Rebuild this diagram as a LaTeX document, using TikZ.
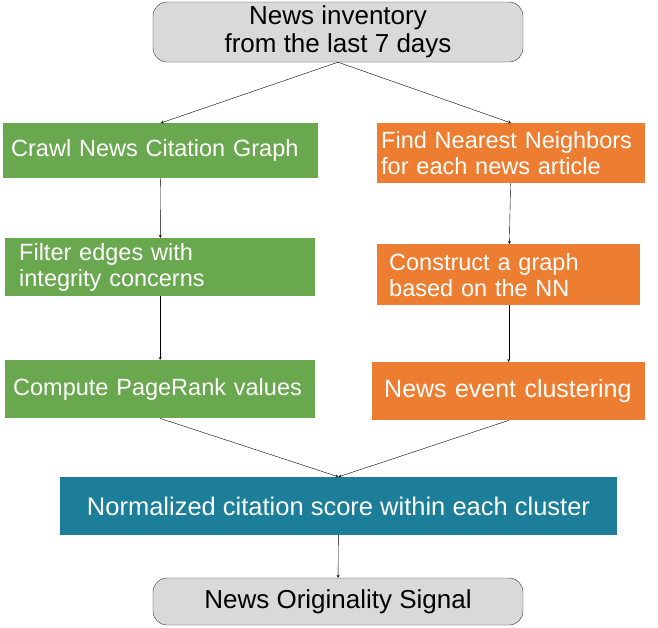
\documentclass[tikz,border=0pt]{standalone}
\usepackage{fontspec}
\setmainfont{Liberation Sans}
\usetikzlibrary{positioning,arrows}
\definecolor{stepgreen}{HTML}{6AA84F}
\definecolor{steporange}{HTML}{ED7D31}
\definecolor{stepblue}{HTML}{1C7E99}
\definecolor{endgray}{HTML}{D9D9D9}
\begin{document}
\begin{tikzpicture}[
            x=1pt,y=-1pt,
            every node/.style={font=\fontsize{23.5}{26}\selectfont},
            ends/.style={draw=black!80,fill=endgray,rounded corners=14pt,minimum width=370pt,align=center,font=\fontsize{26}{28}\selectfont},
            flowbox/.style={text=white,anchor=north west,align=left,inner xsep=8pt,inner ysep=0pt},
            citebox/.style={flowbox,fill=stepgreen},
            nnbox/.style={flowbox,fill=steporange},
            >=stealth
        ]
        \useasboundingbox (0,0) rectangle (658,627);

        % Start and end %
        \node[ends,minimum height=60pt] (inventory) at (338,32) {News inventory\\ from the last 7 days};
        \node[ends,minimum height=47pt] (signal) at (338,601.5) {News Originality Signal};

        % Left column %
        \node[citebox,text width=299pt,minimum height=55pt] (crawl) at (3,123) {Crawl News Citation Graph};
        \node[citebox,text width=294pt,minimum height=58pt,inner xsep=14pt,text width=282pt] (filter) at (5,238) {Filter edges with\\integrity concerns};
        \node[citebox,text width=294pt,minimum height=58pt] (pagerank) at (5,360) {Compute PageRank values};

        % Right column %
        \node[nnbox,text width=260pt,minimum height=60pt,inner xsep=4pt] (neighbors) at (377,123) {Find Nearest Neighbors\\for each news article};
        \node[nnbox,text width=247pt,minimum height=61pt,inner xsep=12pt,text width=239pt] (construct) at (377,244) {Construct a graph\\based on the NN};
        \node[nnbox,text width=257pt,minimum height=58pt,inner xsep=12pt,text width=249pt,font=\fontsize{25}{28}\selectfont] (cluster) at (372,362) {News event clustering};

        % Score %
        \node[fill=stepblue,text=white,minimum width=557pt,minimum height=58pt,font=\fontsize{25.5}{28}\selectfont] (score) at (338.5,506) {Normalized citation score within each cluster};

        % Draw arrows %
        \draw[->] (inventory.south) -- (crawl.north);
        \draw[->] (inventory.south) -- (neighbors.north);
        \draw[->] (crawl) -- (filter);
        \draw[->] (filter) -- (pagerank);
        \draw[->] (neighbors) -- (construct);
        \draw[->] (construct) -- (cluster);
        \draw[->] (pagerank.south) -- (score.north);
        \draw[->] (cluster.south) -- (score.north);
        \draw[->] (score) -- (signal);
\end{tikzpicture}
\end{document}
